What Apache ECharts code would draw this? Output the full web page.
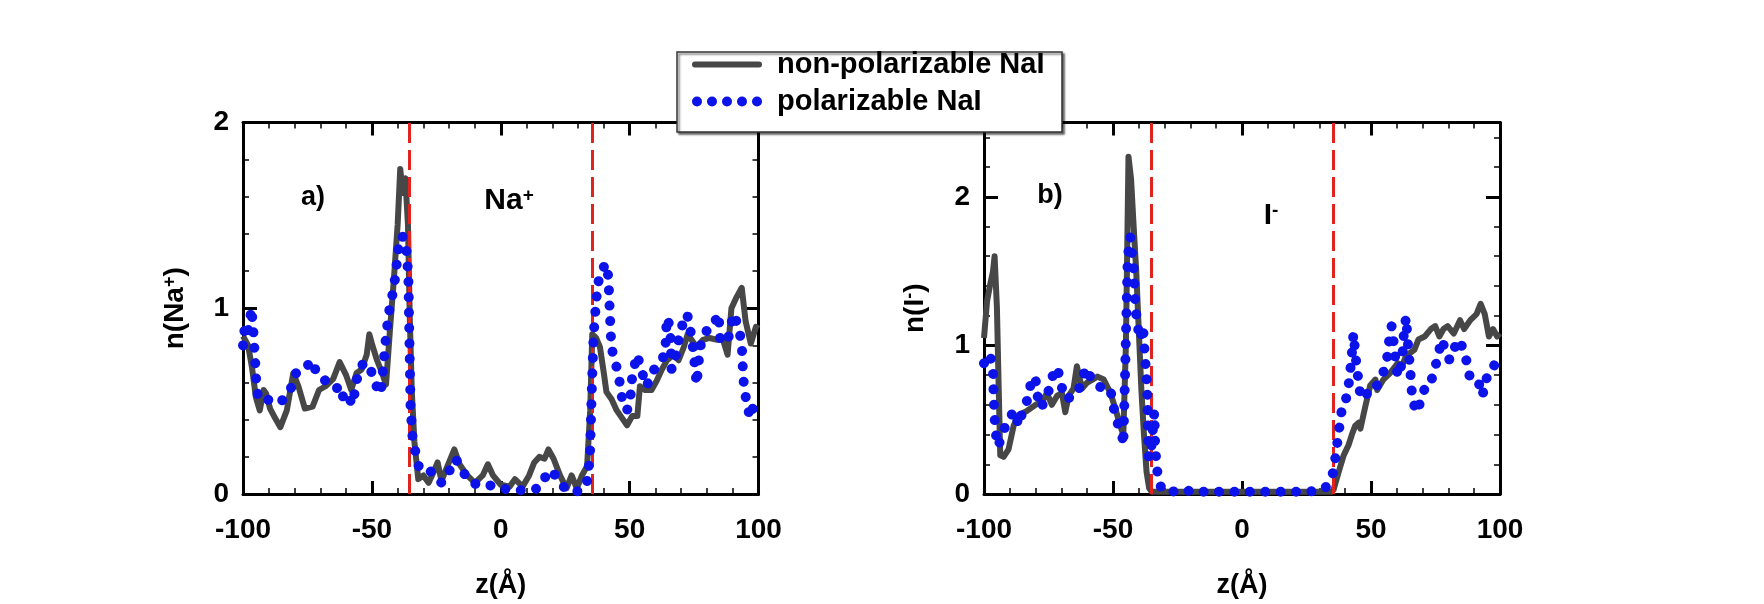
<!DOCTYPE html>
<html>
<head>
<meta charset="utf-8">
<title>n(Na+) / n(I-)</title>
<script src="https://cdn.jsdelivr.net/npm/echarts@6.0.0/dist/echarts.min.js"></script>
<style>
html,body{margin:0;padding:0;background:#fff;}
#main{width:1764px;height:604px;}
</style>
</head>
<body>
<div id="main"></div>
<script>
// a) Na+ , non-polarizable
var naZ_np = [-100,-98,-96.5,-95,-93.5,-92,-91,-89.5,-88,-85.5,-83,-80.5,-78.5,-76,-73,-70.5,-68,-65,-62.5,-60,-58,-56,-54,-52,-51,-50,-48,-46,-44.5,-43,-41.5,-40,-39,-38,-37,-36,-35.3,-34.5,-33.5,-32,-30,-28,-26,-24.5,-23,-21,-18,-16,-13,-10,-7,-5,-3,0,3.5,5.5,8.5,11,13,15,17,18.5,20.5,23,25.5,27.5,29.5,31.5,33.5,34.7,35.5,37,38.5,40,41,43,45,47,49,51,53,54,56,58.5,60.5,62.5,64.5,67,69,71,72.5,74,76,78.5,81,84,86,88,89.5,91.5,93.5,95,97,99,100];
var naN_np = [0.85,0.80,0.68,0.52,0.45,0.56,0.54,0.46,0.42,0.36,0.45,0.65,0.58,0.46,0.47,0.56,0.58,0.62,0.71,0.64,0.56,0.65,0.67,0.75,0.86,0.81,0.72,0.65,0.59,0.88,1.15,1.45,1.75,1.62,1.70,1.45,0.95,0.55,0.28,0.08,0.10,0.06,0.12,0.17,0.07,0.14,0.24,0.16,0.10,0.06,0.10,0.16,0.10,0.05,0.04,0.08,0.04,0.10,0.17,0.20,0.19,0.24,0.19,0.10,0.03,0.10,0.03,0.10,0.15,0.45,0.86,0.84,0.79,0.65,0.55,0.51,0.45,0.41,0.37,0.42,0.42,0.58,0.56,0.56,0.61,0.67,0.72,0.75,0.72,0.79,0.86,0.83,0.79,0.83,0.84,0.83,0.84,0.75,1.00,1.06,1.11,0.93,0.81,0.90,0.89];

// a) Na+ , polarizable
var naZ_p = [-100,-99.5,-98.5,-97.5,-96.7,-96,-95.3,-94.7,-94,-91,-88,-86,-83.5,-81,-79.2,-77,-75,-73.5,-71,-68,-64,-62,-60,-57.5,-55.5,-53.5,-51,-49.5,-47.5,-46.5,-45.5,-44.5,-43.5,-42.3,-41,-39.7,-38.5,-37,-36.3,-35.8,-35.4,-35,-34.2,-33,-31.5,-29.5,-27,-25,-23,-20.5,-17.5,-15,-12.5,-9,-5,0,5,10,14.5,17.2,19.8,21.5,23,26,30.5,33.3,34.6,35.3,36,37,38,39.3,41,41.8,42.3,42.8,43.5,45,46.3,47,49,50.3,51,52.8,54.7,56,58,60,62,63.8,64.4,65.7,66.3,67.6,69,70.2,72.2,73,74.2,75.4,76,77.3,78.6,80.6,82.5,84.5,85.1,87,88.3,90.3,92.2,93.5,94,94.5,95.5,96.7,98,100];
var naN_p = [0.80,0.88,0.84,0.92,1.00,0.88,0.72,0.57,0.51,0.51,0.50,0.49,0.52,0.58,0.66,0.67,0.69,0.72,0.64,0.61,0.59,0.51,0.55,0.48,0.64,0.70,0.70,0.62,0.56,0.54,0.70,0.85,0.97,1.05,1.16,1.32,1.39,1.37,1.27,1.14,0.80,0.47,0.30,0.22,0.13,0.13,0.12,0.10,0.06,0.11,0.19,0.13,0.07,0.05,0.05,0.03,0.02,0.02,0.03,0.09,0.13,0.09,0.06,0.015,0.015,0.05,0.20,0.55,0.85,1.04,1.15,1.21,1.24,1.16,0.98,0.83,0.75,0.68,0.59,0.52,0.45,0.52,0.63,0.75,0.67,0.58,0.61,0.69,0.72,0.75,0.95,0.90,0.67,0.72,0.83,0.90,0.97,0.93,0.83,0.68,0.59,0.79,0.84,0.90,0.91,0.97,0.84,0.81,0.84,0.97,0.90,0.81,0.65,0.56,0.49,0.41,0.47,0.51];

// b) I- , non-polarizable
var iZ_np = [-100,-98.8,-97.6,-96.5,-95.9,-95,-94.3,-93.7,-92.4,-90.5,-88.5,-86.6,-83.3,-80,-77.5,-75.6,-73.7,-71.7,-69.8,-68.5,-67.2,-65.3,-64,-62,-60,-58,-56,-53.6,-51,-49,-47.2,-46,-45,-44,-43,-42,-41,-40,-39,-38,-37,-36,-35,-20,0,20,34.7,35.5,37.5,39.4,41.3,42.6,43.9,45.2,45.9,47.8,49.7,51.7,52.4,54.8,57.2,60.4,62,63.6,66.8,68.4,70.8,73.2,74.9,76.5,78.1,79.7,82.1,84.5,86.1,88.5,90.9,92.5,94.1,95.7,97.3,98.9,100];
var iN_np = [1.05,1.30,1.41,1.50,1.60,1.26,0.71,0.26,0.25,0.30,0.46,0.53,0.56,0.60,0.62,0.68,0.60,0.66,0.68,0.55,0.66,0.71,0.86,0.71,0.75,0.77,0.79,0.77,0.68,0.57,0.46,0.40,1.00,2.27,2.12,1.80,1.50,1.10,0.70,0.40,0.15,0.04,0.015,0.015,0.015,0.015,0.015,0.03,0.15,0.26,0.33,0.40,0.46,0.48,0.44,0.59,0.73,0.77,0.70,0.77,0.81,0.88,0.86,0.93,0.97,1.04,1.06,1.11,1.13,1.06,1.11,1.13,1.08,1.17,1.11,1.17,1.21,1.28,1.21,1.06,1.11,1.06,1.08];

// b) I- , polarizable
var iZ_p = [-100,-98.8,-97.6,-96.5,-96.2,-95.6,-94.5,-93,-90.5,-88,-86.6,-85.3,-83.3,-82,-80.1,-79.5,-78.2,-75.6,-74.3,-72.4,-71.5,-70.4,-68.5,-64.6,-62,-60.7,-58.8,-56.2,-53.6,-51.1,-49.8,-49,-47.8,-46.5,-46,-45.2,-44.3,-43.3,-42.7,-42,-41.4,-40.7,-39.4,-38.4,-37.5,-36.8,-36.2,-35.2,-34,-33.6,-32.8,-31.2,-28,-25,-22,-19,-16,-10,-5,0,5,10,15,20,25,28,32.3,35.5,36.3,37.9,38.7,39.5,41.1,41.9,42.7,43.2,44.3,45.1,45.9,47.5,49.9,52.4,54.8,56.4,57.2,58,58.8,59.6,60.4,62,62.8,63.6,64.4,65.2,66,67.6,69.2,70.8,73.2,74,75.7,77.3,78.9,80.5,82.1,83.7,86.1,88.5,90.1,91.7,93.3,94.1,95.7,97.3,98.9,100];
var iN_p = [0.88,0.92,0.94,0.82,0.62,0.42,0.32,0.40,0.51,0.56,0.46,0.54,0.63,0.73,0.79,0.68,0.58,0.64,0.75,0.84,0.85,0.75,0.64,0.66,0.75,0.85,0.79,0.73,0.71,0.71,0.59,0.51,0.46,0.40,0.33,0.90,1.59,1.73,1.63,1.52,1.30,1.15,1.04,1.13,0.90,0.73,0.24,0.30,0.55,0.30,0.15,0.03,0.015,0.02,0.015,0.03,0.015,0.015,0.015,0.015,0.015,0.015,0.015,0.015,0.015,0.02,0.04,0.15,0.26,0.47,0.57,0.58,0.70,0.82,0.97,1.08,0.88,0.77,0.66,0.64,0.73,0.73,0.82,0.93,1.06,1.13,1.02,0.88,0.79,0.88,1.10,1.19,0.99,0.84,0.64,0.55,0.62,0.71,0.73,0.82,0.90,1.04,0.97,0.90,0.97,1.04,0.97,0.77,0.75,0.75,0.66,0.77,0.79,0.86,0.88,0.88];

// interface positions (dashed red lines)
var wallsA = [-35.5, 35.5];
var wallsB = [-35.3, 35.3];

var seriesNames = ['non-polarizable NaI', 'polarizable NaI'];

function pairs(zs, ns) {
  var out = [];
  for (var i = 0; i < zs.length; i++) out.push([zs[i], ns[i]]);
  return out;
}

var fontFam = '"Liberation Sans", Arial, sans-serif';
var black = '#000';
var greyCol = '#474747';
var blueCol = '#0c12ea';
var redCol = '#e0231d';

function xAxes(grid) {
  var common = {
    gridIndex: grid, type: 'value', min: -100, max: 100, interval: 50,
    axisLine: {onZero: false, lineStyle: {color: black, width: 3}},
    axisTick: {inside: true, length: 13, lineStyle: {color: black, width: 3}},
    minorTick: {show: true, splitNumber: 5, length: 6, lineStyle: {color: black, width: 1.5}},
    splitLine: {show: false}
  };
  var bottom = Object.assign({}, common, {
    position: 'bottom',
    axisLabel: {margin: 22, color: black, fontSize: 28, fontWeight: 'bold', fontFamily: fontFam},
    name: 'z(Å)', nameLocation: 'middle', nameGap: 78,
    nameTextStyle: {color: black, fontSize: 27, fontWeight: 'bold', fontFamily: fontFam}
  });
  var top = Object.assign({}, common, {position: 'top', axisLabel: {show: false}});
  return [bottom, top];
}

function yAxes(grid, max, name, gap) {
  var line = {onZero: false, lineStyle: {color: black, width: 3}};
  var major = {
    gridIndex: grid, type: 'value', min: 0, max: max, interval: 1,
    splitLine: {show: false},
    axisTick: {inside: true, length: 14, lineStyle: {color: black, width: 3}}
  };
  var minor = {
    gridIndex: grid, type: 'value', min: 0, max: max, interval: 0.2,
    splitLine: {show: false}, axisLine: {show: false, onZero: false}, axisLabel: {show: false},
    axisTick: {inside: true, length: 6, lineStyle: {color: black, width: 1.5}}
  };
  return [
    Object.assign({}, major, {
      position: 'left', axisLine: line,
      axisLabel: {margin: 14, color: black, fontSize: 28, fontWeight: 'bold', fontFamily: fontFam,
        formatter: function (v) { return v % 1 === 0 ? String(v) : ''; }},
      name: name, nameLocation: 'middle', nameRotate: 90, nameGap: gap,
      nameTextStyle: {
        color: black, fontFamily: fontFam,
        rich: {
          m: {fontSize: 28, fontWeight: 'bold', fontFamily: fontFam, color: black},
          s: {fontSize: 18, fontWeight: 'bold', fontFamily: fontFam, color: black, verticalAlign: 'top'}
        }
      }
    }),
    Object.assign({}, major, {position: 'right', axisLine: line, axisLabel: {show: false}}),
    Object.assign({}, minor, {position: 'left'}),
    Object.assign({}, minor, {position: 'right'})
  ];
}

function wallLine(walls) {
  return {
    silent: true, symbol: ['none', 'none'], z: 3,
    label: {show: false},
    lineStyle: {color: redCol, width: 3, type: [20, 7]},
    data: walls.map(function (v) { return {xAxis: v}; })
  };
}

function greySeries(x, y, zs, ns, walls) {
  return {
    name: seriesNames[0], type: 'line', xAxisIndex: x, yAxisIndex: y,
    data: pairs(zs, ns), showSymbol: false, symbol: 'none', z: 2,
    lineStyle: {color: greyCol, width: 6, join: 'round'},
    itemStyle: {color: greyCol},
    markLine: wallLine(walls)
  };
}

function blueSeries(x, y, zs, ns) {
  return {
    name: seriesNames[1], type: 'line', xAxisIndex: x, yAxisIndex: y,
    data: pairs(zs, ns), showSymbol: false, symbol: 'none', z: 4,
    lineStyle: {color: blueCol, width: 10, type: [0.01, 15.4], cap: 'round', join: 'round'},
    itemStyle: {color: blueCol}
  };
}

var supStyle = {
  m: {fontSize: 30, fontWeight: 'bold', fontFamily: fontFam, fill: black},
  s: {fontSize: 19, fontWeight: 'bold', fontFamily: fontFam, fill: black, verticalAlign: 'top'}
};

var dotIcon = 'path://M0,5a5,5 0 1,0 10,0a5,5 0 1,0 -10,0Z' +
  'M15,5a5,5 0 1,0 10,0a5,5 0 1,0 -10,0Z' +
  'M30,5a5,5 0 1,0 10,0a5,5 0 1,0 -10,0Z' +
  'M45,5a5,5 0 1,0 10,0a5,5 0 1,0 -10,0Z' +
  'M60,5a5,5 0 1,0 10,0a5,5 0 1,0 -10,0Z';
var barIcon = 'path://M3,0H67A3,3 0 0 1 67,6H3A3,3 0 0 1 3,0Z';

var myChart = echarts.init(document.getElementById('main'), null, {renderer: 'canvas'});
var option = {
  animation: false,
  backgroundColor: '#fff',
  grid: [
    {left: 243, top: 122.5, width: 515.5, height: 376},
    {left: 984, top: 122.5, width: 516, height: 377}
  ],
  xAxis: xAxes(0).concat(xAxes(1)),
  yAxis: yAxes(0, 2, '{m|n(Na}{s|+}{m|)}', 54).concat(yAxes(1, 2.5, '{m|n(I}{s|-}{m|)}', 55)),
  legend: {
    orient: 'vertical', left: 692, top: 50, padding: 0, itemGap: 8,
    itemWidth: 70, itemHeight: 10, z: 6,
    itemStyle: {borderWidth: 0},
    textStyle: {color: black, fontSize: 29, fontWeight: 'bold', fontFamily: fontFam, padding: [0, 0, 0, 10]},
    data: [
      {name: seriesNames[0], icon: barIcon},
      {name: seriesNames[1], icon: dotIcon}
    ]
  },
  graphic: [
    {type: 'rect', z: 5, shape: {x: 677, y: 52, width: 385, height: 80},
     style: {fill: '#fff', stroke: '#333', lineWidth: 1.5,
       shadowColor: 'rgba(0,0,0,0.55)', shadowOffsetX: 2, shadowOffsetY: 2, shadowBlur: 2}},
    {type: 'text', z: 5, x: 313, y: 198,
     style: {text: 'a)', fontSize: 27, fontWeight: 'bold', fontFamily: fontFam, fill: black, align: 'center', verticalAlign: 'middle'}},
    {type: 'text', z: 5, x: 509, y: 201,
     style: {text: '{m|Na}{s|+}', rich: supStyle, align: 'center', verticalAlign: 'middle'}},
    {type: 'text', z: 5, x: 1050, y: 196,
     style: {text: 'b)', fontSize: 27, fontWeight: 'bold', fontFamily: fontFam, fill: black, align: 'center', verticalAlign: 'middle'}},
    {type: 'text', z: 5, x: 1271, y: 216,
     style: {text: '{m|I}{s|-}', rich: supStyle, align: 'center', verticalAlign: 'middle'}}
  ],
  series: [
    greySeries(0, 0, naZ_np, naN_np, wallsA),
    blueSeries(0, 0, naZ_p, naN_p),
    greySeries(2, 4, iZ_np, iN_np, wallsB),
    blueSeries(2, 4, iZ_p, iN_p)
  ]
};
myChart.setOption(option);
window.addEventListener('resize', function () {
  myChart.resize();
});
</script>
</body>
</html>
